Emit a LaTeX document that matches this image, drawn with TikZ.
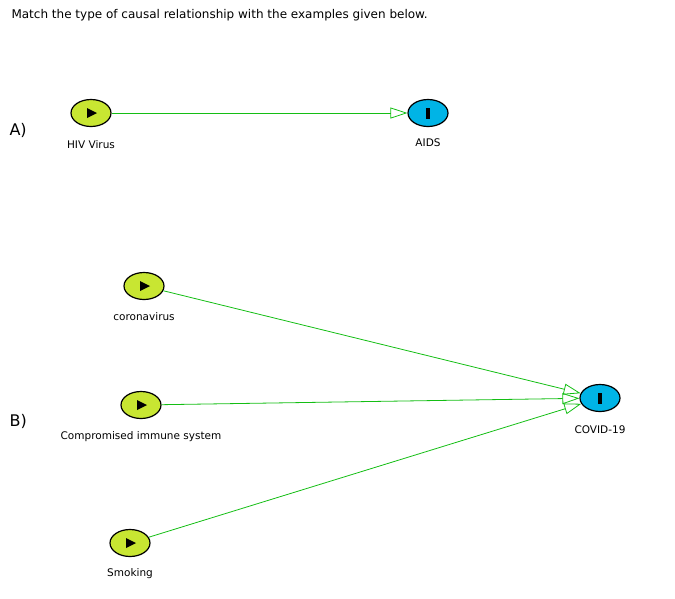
\documentclass[tikz,border=0pt]{standalone}
\usepackage{fontspec}
\setmainfont{DejaVu Sans}
\usetikzlibrary{shapes.geometric,arrows.meta}
\definecolor{causefill}{RGB}{200,230,50}
\definecolor{effectfill}{RGB}{0,180,230}
\definecolor{linkgreen}{RGB}{20,190,20}
\tikzset{
  cause/.style={draw=black, line width=1.2pt, ellipse, fill=causefill, minimum width=40pt, minimum height=27pt,
    path picture={\fill[black] ([xshift=-4pt,yshift=5pt]path picture bounding box.center) -- ++(10pt,-5pt) -- ++(-10pt,-5pt) -- cycle;}},
  effect/.style={draw=black, line width=1.2pt, ellipse, fill=effectfill, minimum width=40pt, minimum height=27pt,
    path picture={\fill[black] ([xshift=-1.6pt,yshift=5.5pt]path picture bounding box.center) rectangle ++(3.2pt,-11pt);}},
  lbl/.style={font=\fontsize{10.5}{12}\selectfont},
  link/.style={draw=linkgreen, line width=0.8pt, -{Triangle[open, length=17pt, width=11pt]}}
}
\begin{document}
\begin{tikzpicture}[x=1pt,y=-1pt]
\useasboundingbox (0,0) rectangle (675,598);
\node[anchor=west, font=\fontsize{12}{14}\selectfont] (title) at (8,15) {Match the type of causal relationship with the examples given below.};
\node[anchor=west, font=\fontsize{16}{18}\selectfont] (partA) at (6,130) {A)};
\node[anchor=west, font=\fontsize{16}{18}\selectfont] (partB) at (6,421) {B)};

\node[cause] (hiv) at (91,113) {};
\node[lbl] (hivl) at (91,145) {HIV Virus};
\node[effect] (aids) at (428,113) {};
\node[lbl] (aidsl) at (428,143) {AIDS};
\draw[link] (hiv) -- (aids);

\node[cause] (corona) at (144,286) {};
\node[lbl] (coronal) at (144,317) {coronavirus};
\node[cause] (immune) at (141,405) {};
\node[lbl] (immunel) at (141,437) {Compromised immune system};
\node[cause] (smoking) at (130,543) {};
\node[lbl] (smokingl) at (130,574) {Smoking};
\node[effect] (covid) at (600,398) {};
\node[lbl] (covidl) at (600,430) {COVID-19};

\draw[link] (corona) -- (covid);
\draw[link] (immune) -- (covid);
\draw[link] (smoking) -- (covid);
\end{tikzpicture}
\end{document}
